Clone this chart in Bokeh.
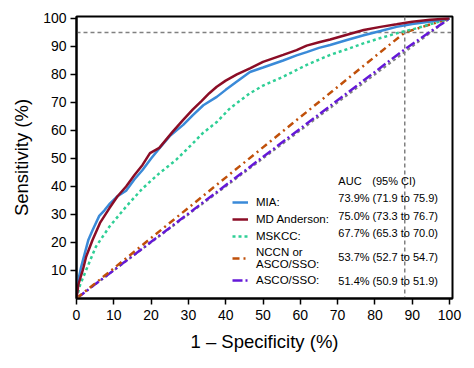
from bokeh.plotting import figure
from bokeh.models import Range1d, FixedTicker, Span, Legend, LegendItem, Label
from bokeh.embed import file_html
from bokeh.resources import INLINE

# ---- data ----
mda_x = [0, 0.5, 1.7, 2.6, 4.3, 6.3, 8.8, 11, 13.3, 15.5, 17.7, 19.7, 22.2, 25.8, 28.6,
         31.2, 33.5, 35.6, 37.6, 40, 43, 46.5, 50, 55.4, 59, 61.7, 65, 68, 72.5, 77,
         81.5, 85.8, 90, 94.8, 100]
mda_y = [0, 5, 10.2, 15, 20.9, 27, 32.2, 36.5, 40, 44, 47.7, 51.9, 53.8, 59.6, 63.8,
         67.5, 70.5, 73.3, 75.6, 77.8, 80, 82.2, 84.5, 87, 88.7, 90.3, 91.5, 92.5, 94.2, 95.9,
         97, 97.9, 98.8, 99.5, 100]

mia_x = [0, 0.4, 1.2, 2.2, 3.2, 4.3, 6.1, 7.5, 9, 11, 13.3, 15.5, 17.7, 20, 22.2, 25,
         28.6, 31.2, 34, 37.6, 40, 43, 46.5, 50, 55.4, 59, 61.7, 65, 68, 72.5, 77, 81.5,
         85.8, 90, 95, 100]
mia_y = [0, 6, 11, 16, 21, 24.4, 29.5, 31.5, 34, 36.5, 38.5, 42.5, 45.9, 50, 53.6, 58,
         62, 65.5, 69, 72, 74.5, 77.5, 80.9, 82.5, 85, 86.8, 88, 89.5, 90.5, 92.3, 94, 95.5,
         97, 98, 98.9, 100]

msk_x = [0, 1, 2.6, 5.2, 8.8, 13.3, 17.7, 22.2, 26.7, 31.2, 33.8, 37.6, 41.2, 46.5, 50,
         55.4, 61.7, 68, 72.5, 76.9, 81.5, 85.8, 91.2, 95.5, 100]
msk_y = [0, 5, 10.2, 18.5, 25.6, 32.8, 39.3, 44.7, 49.5, 55.4, 59, 63, 68, 73.3, 76,
         79.2, 83.4, 87, 89, 91.1, 93, 94.7, 96.5, 98.2, 100]

nccn_x = [0, 88, 100]
nccn_y = [0, 95, 100]

asco_x = [0, 88, 100]
asco_y = [0, 89, 100]

chance_x = [0, 100]
chance_y = [0, 100]

sens_threshold = 95
fpr_threshold = 88

series_labels = ["MIA:", "MD Anderson:", "MSKCC:", "NCCN or\nASCO/SSO:", "ASCO/SSO:"]
auc_texts = ["73.9% (71.9 to 75.9)", "75.0% (73.3 to 76.7)", "67.7% (65.3 to 70.0)",
             "53.7% (52.7 to 54.7)", "51.4% (50.9 to 51.9)"]
x_ticks = [0, 10, 20, 30, 40, 50, 60, 70, 80, 90, 100]
y_ticks = [10, 20, 30, 40, 50, 60, 70, 80, 90, 100]

FONT = "Liberation Sans"

p = figure(width=474, height=368, output_backend="svg", toolbar_location=None,
           x_range=Range1d(0, 100.8), y_range=Range1d(0, 100.7),
           min_border_left=76, min_border_right=22, min_border_top=16, min_border_bottom=70)
p.background_fill_color = "white"
p.border_fill_color = "white"
p.grid.visible = False
p.outline_line_color = "black"
p.outline_line_width = 2

for ax in (p.xaxis[0], p.yaxis[0]):
    ax.axis_line_width = 2
    ax.axis_line_color = "black"
    ax.major_tick_line_width = 1.5
    ax.major_tick_line_color = "black"
    ax.major_tick_out = 6
    ax.major_tick_in = 0
    ax.minor_tick_line_color = None
    ax.major_label_text_font = FONT
    ax.major_label_text_font_size = "14px"
    ax.major_label_text_color = "black"
    ax.axis_label_text_font = FONT
    ax.axis_label_text_font_size = "18.5px"
    ax.axis_label_text_font_style = "normal"
    ax.axis_label_text_color = "black"

p.xaxis.ticker = FixedTicker(ticks=x_ticks)
p.yaxis.ticker = FixedTicker(ticks=y_ticks)
p.xaxis.axis_label = "1 \u2013 Specificity (%)"
p.yaxis.axis_label = "Sensitivity (%)"
p.xaxis.major_label_standoff = 5
p.yaxis.major_label_standoff = 4
p.xaxis.axis_label_standoff = 8
p.yaxis.axis_label_standoff = 8

gray = "#808080"
p.add_layout(Span(location=sens_threshold, dimension="width", line_color=gray,
                  line_dash="4 3", line_width=1.5, level="underlay"))
p.add_layout(Span(location=fpr_threshold, dimension="height", line_color=gray,
                  line_dash="4 3", line_width=1.5, level="underlay"))

p.line(chance_x, chance_y, line_color=gray, line_width=2, line_dash="3 3")
r_asco = p.line(asco_x, asco_y, line_color="#6418d8", line_width=2.5, line_dash="10 3 2 3")
r_nccn = p.line(nccn_x, nccn_y, line_color="#c0500a", line_width=2.5, line_dash="7 4 2 4")
r_msk = p.line(msk_x, msk_y, line_color="#2fcf96", line_width=2.5, line_dash="3 3")
r_mia = p.line(mia_x, mia_y, line_color="#3a8ad8", line_width=2.5)
r_mda = p.line(mda_x, mda_y, line_color="#8b0d26", line_width=2.5)

renderers = [r_mia, r_mda, r_msk, r_nccn, r_asco]
legend = Legend(items=[LegendItem(label=lab, renderers=[r]) for lab, r in zip(series_labels, renderers)],
                location=(156, 11), margin=0, padding=0, spacing=3,
                glyph_width=16, glyph_height=14, label_height=14, label_standoff=8,
                label_text_font=FONT, label_text_font_size="11.5px", label_text_color="black",
                border_line_alpha=0, background_fill_alpha=0)
p.add_layout(legend)

row_y = [35.8, 29.6, 23.3, 14.75, 6.4]
for txt, yy in zip(auc_texts, row_y):
    p.add_layout(Label(x=70.2, y=yy, text=txt, text_font=FONT, text_font_size="11px",
                       text_baseline="middle", text_color="black"))
p.add_layout(Label(x=70.2, y=42.1, text="AUC", text_font=FONT, text_font_size="11px",
                   text_baseline="middle", text_color="black"))
p.add_layout(Label(x=79.3, y=42.1, text="(95% CI)", text_font=FONT, text_font_size="11px",
                   text_baseline="middle", text_color="black"))

open("out.html", "w").write(file_html(p, INLINE))
